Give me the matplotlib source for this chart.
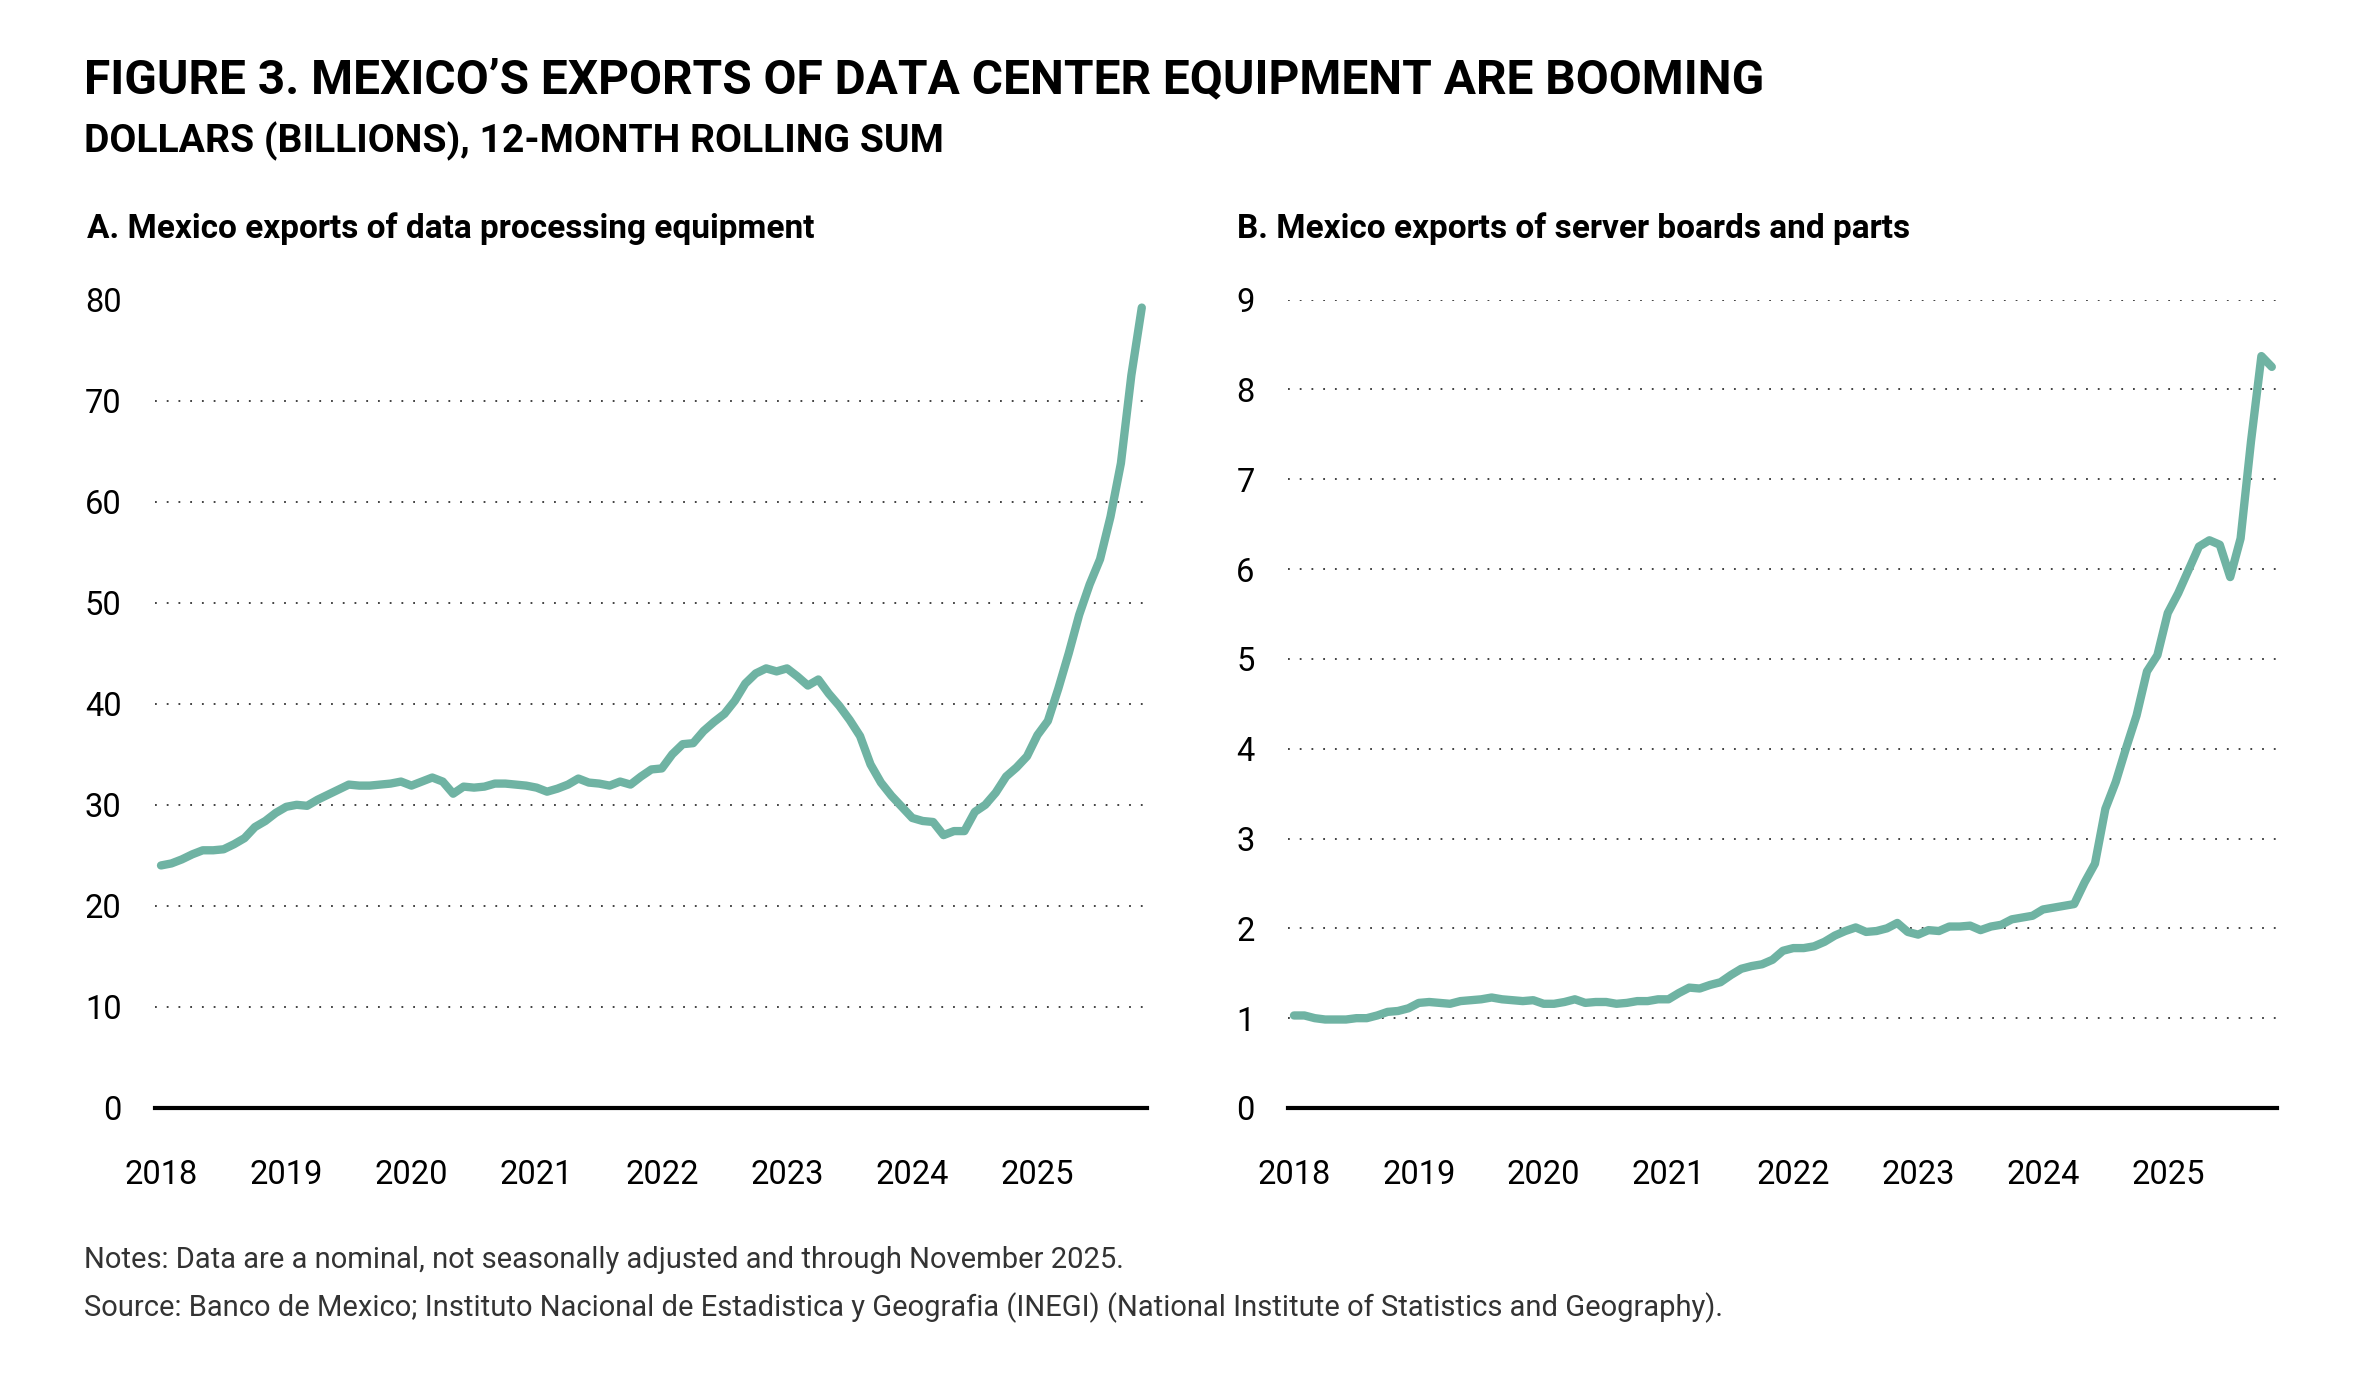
import numpy as np
import matplotlib
matplotlib.use("Agg")
import matplotlib.pyplot as plt

plt.rcParams['font.family'] = ['Roboto', 'DejaVu Sans']

# monthly, Jan 2018 - Nov 2025, 12-month rolling sum, billions of dollars
data_processing = [
    24.0, 24.2, 24.6, 25.1, 25.5, 25.5, 25.6, 26.1, 26.7, 27.8, 28.4, 29.2,
    29.8, 30.0, 29.9, 30.5, 31.0, 31.5, 32.0, 31.9, 31.9, 32.0, 32.1, 32.3,
    31.9, 32.3, 32.7, 32.3, 31.1, 31.8, 31.7, 31.8, 32.1, 32.1, 32.0, 31.9,
    31.7, 31.3, 31.6, 32.0, 32.6, 32.2, 32.1, 31.9, 32.3, 32.0, 32.8, 33.5,
    33.6, 35.0, 36.0, 36.1, 37.3, 38.2, 39.0, 40.3, 42.0, 43.0, 43.5, 43.2,
    43.5, 42.7, 41.8, 42.4, 41.0, 39.8, 38.4, 36.8, 34.0, 32.2, 30.9, 29.8,
    28.7, 28.4, 28.3, 27.0, 27.4, 27.4, 29.3, 30.0, 31.2, 32.8, 33.7, 34.8,
    36.9, 38.3, 41.5, 45.0, 48.8, 51.8, 54.3, 58.5, 63.8, 72.5, 79.2,
]
server_boards = [
    1.03, 1.03, 1.00, 0.985, 0.985, 0.985, 1.00, 1.00, 1.03, 1.07, 1.08, 1.11,
    1.17, 1.18, 1.17, 1.16, 1.19, 1.20, 1.21, 1.23, 1.21, 1.20, 1.19, 1.20,
    1.16, 1.16, 1.18, 1.21, 1.17, 1.18, 1.18, 1.16, 1.17, 1.19, 1.19, 1.21,
    1.21, 1.28, 1.34, 1.33, 1.37, 1.40, 1.48, 1.55, 1.58, 1.60, 1.65, 1.75,
    1.78, 1.78, 1.80, 1.85, 1.92, 1.97, 2.01, 1.96, 1.97, 2.00, 2.06, 1.96,
    1.93, 1.98, 1.97, 2.02, 2.02, 2.03, 1.98, 2.02, 2.04, 2.10, 2.12, 2.14,
    2.21, 2.23, 2.25, 2.27, 2.51, 2.72, 3.33, 3.63, 4.01, 4.37, 4.86, 5.04,
    5.51, 5.73, 5.99, 6.25, 6.32, 6.27, 5.91, 6.34, 7.42, 8.37, 8.25,
]
months = 2018 + np.arange(len(data_processing)) / 12.0

years = list(range(2018, 2026))
ticks_a = list(range(0, 81, 10))
ticks_b = list(range(0, 10))

title = "FIGURE 3. MEXICO\u2019S EXPORTS OF DATA CENTER EQUIPMENT ARE BOOMING"
subtitle = "DOLLARS (BILLIONS), 12-MONTH ROLLING SUM"
panel_a = "A. Mexico exports of data processing equipment"
panel_b = "B. Mexico exports of server boards and parts"
notes = "Notes: Data are a nominal, not seasonally adjusted and through November 2025."
source = ("Source: Banco de Mexico; Instituto Nacional de Estadistica y Geografia (INEGI) "
          "(National Institute of Statistics and Geography).")

LINE = '#6fb3a3'
W, H = 2360, 1385

fig = plt.figure(figsize=(W / 100, H / 100), dpi=100)


def px(x, y):
    return x / W, 1 - y / H


def panel(rect, values, yticks):
    ax = fig.add_axes(rect)
    ax.plot(months, values, color=LINE, lw=6, solid_capstyle='round',
            solid_joinstyle='round', clip_on=False, zorder=3)
    ax.set_xlim(2017.952, 2025.875)
    ax.set_ylim(yticks[0], yticks[-1])
    ax.set_yticks(yticks)
    ax.set_xticks(years)
    ax.set_xticklabels([str(y) for y in years])
    for s in ax.spines.values():
        s.set_visible(False)
    ax.tick_params(axis='y', length=0, pad=24, labelsize=23.5)
    ax.tick_params(axis='x', length=0, pad=37, labelsize=23.5)
    ax.yaxis.grid(True, color='#333333', lw=1.3, linestyle=(0, (1, 5.5)))
    ax.set_axisbelow(True)
    ax.axhline(0, color='black', lw=3, zorder=2, clip_on=False)
    return ax


panel([155 / W, 1 - 1108 / H, (1147 - 155) / W, (1108 - 299.5) / H],
      data_processing, ticks_a)
panel([1288 / W, 1 - 1108 / H, (2277 - 1288) / W, (1108 - 299.5) / H],
      server_boards, ticks_b)

fig.text(*px(84, 93), title, fontsize=34.5, fontweight='bold', va='baseline')
fig.text(*px(84, 152), subtitle, fontsize=28.2, fontweight='bold', va='baseline')
fig.text(*px(87, 238), panel_a, fontsize=24, fontweight='bold', va='baseline')
fig.text(*px(1237, 238), panel_b, fontsize=24, fontweight='bold', va='baseline')
fig.text(*px(84, 1268), notes, fontsize=21, color='#333333', va='baseline')
fig.text(*px(84, 1316), source, fontsize=21, color='#333333', va='baseline')

fig.savefig('out.png', dpi=100, facecolor='white')
